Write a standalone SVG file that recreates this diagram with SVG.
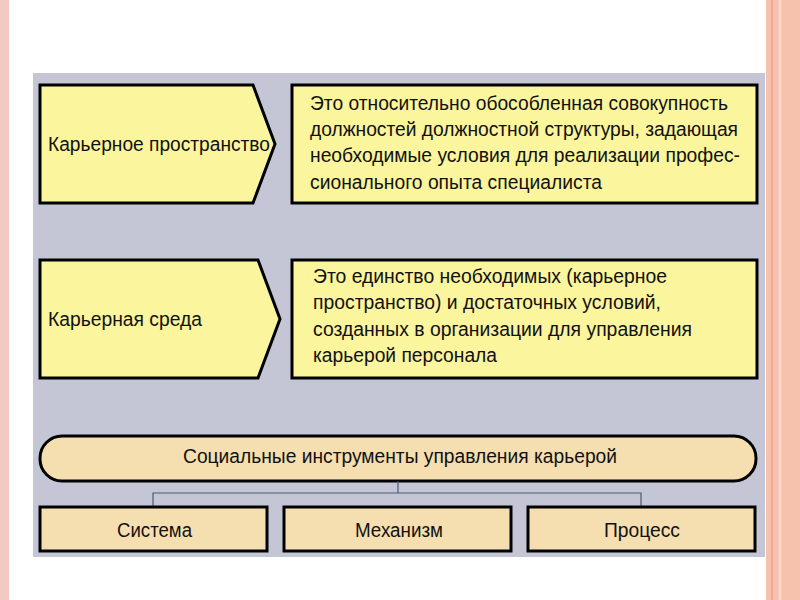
<svg xmlns="http://www.w3.org/2000/svg" width="800" height="600" viewBox="0 0 800 600">
<style>
text{font-family:"Liberation Sans",Arial,sans-serif;fill:#111;font-size:20px}
.y{fill:#fbf59e;stroke:#000;stroke-width:3}
.b{fill:#f5dfb0;stroke:#000;stroke-width:3}
.c{fill:none;stroke:#4a5a78;stroke-width:1.2}
</style>
<rect width="800" height="600" fill="#fff"/>
<rect x="0" y="0" width="9" height="600" fill="#f3c9c1"/>
<rect x="766" y="0" width="34" height="600" fill="#f6c2ad"/>
<line x1="772" y1="0" x2="772" y2="600" stroke="#e8957a" stroke-width="1"/>
<line x1="780" y1="0" x2="780" y2="600" stroke="#fbd8c8" stroke-width="3"/>
<rect x="33" y="73" width="732" height="484" fill="#c4c6d6"/>
<g id="n1"><path class="y" d="M40 85 H253 L275 144 L253 203 H40 Z"/><text x="48" y="151" textLength="222" lengthAdjust="spacingAndGlyphs">Карьерное пространство</text></g>
<g id="d1"><rect class="y" x="292" y="85" width="465" height="118"/>
<text x="310" y="110" textLength="418" lengthAdjust="spacingAndGlyphs">Это относительно обособленная совокупность</text>
<text x="310" y="136" textLength="428" lengthAdjust="spacingAndGlyphs">должностей должностной структуры, задающая</text>
<text x="310" y="162" textLength="430" lengthAdjust="spacingAndGlyphs">необходимые условия для реализации профес-</text>
<text x="310" y="189" textLength="292" lengthAdjust="spacingAndGlyphs">сионального опыта специалиста</text></g>
<g id="n2"><path class="y" d="M40 260 H258 L280 319 L258 378 H40 Z"/><text x="48" y="326" textLength="154" lengthAdjust="spacingAndGlyphs">Карьерная среда</text></g>
<g id="d2"><rect class="y" x="292" y="260" width="465" height="118"/>
<text x="313" y="283" textLength="354" lengthAdjust="spacingAndGlyphs">Это единство необходимых (карьерное</text>
<text x="313" y="309" textLength="348" lengthAdjust="spacingAndGlyphs">пространство) и достаточных условий,</text>
<text x="313" y="336" textLength="379" lengthAdjust="spacingAndGlyphs">созданных в организации для управления</text>
<text x="313" y="362" textLength="184" lengthAdjust="spacingAndGlyphs">карьерой персонала</text></g>
<g id="top"><rect class="b" x="40" y="436" width="716" height="45" rx="22"/><text x="183" y="463" textLength="434" lengthAdjust="spacingAndGlyphs">Социальные инструменты управления карьерой</text></g>
<g id="conn"><path class="c" d="M398 481 V493 M153 507 V493 H641 V507"/></g>
<g id="s1"><rect class="b" x="40" y="507" width="227" height="44"/><text x="117" y="537" textLength="75" lengthAdjust="spacingAndGlyphs">Система</text></g>
<g id="s2"><rect class="b" x="284" y="507" width="227" height="44"/><text x="355" y="537" textLength="88" lengthAdjust="spacingAndGlyphs">Механизм</text></g>
<g id="s3"><rect class="b" x="528" y="507" width="227" height="44"/><text x="604" y="537" textLength="76" lengthAdjust="spacingAndGlyphs">Процесс</text></g>
</svg>
